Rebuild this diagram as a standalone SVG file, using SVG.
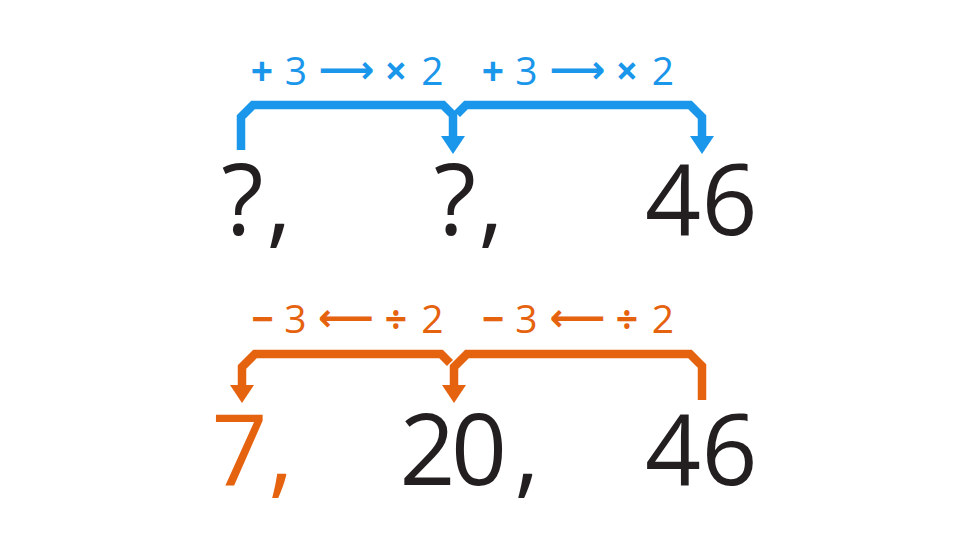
<svg xmlns="http://www.w3.org/2000/svg" width="976" height="549" viewBox="0 0 976 549">
<style>
.num{font-family:"Open Sans","Noto Sans","Liberation Sans",sans-serif;font-size:98px;fill:#231f20;text-anchor:middle}
.lbl{font-family:"Open Sans","Noto Sans","Liberation Sans",sans-serif;font-size:39px;font-weight:500;text-anchor:middle}
.sym{font-weight:700}
.arr{font-family:"DejaVu Sans",sans-serif;font-weight:700}
.blue{fill:#1a96ea}
.orange{fill:#e5620f}
.cb{fill:none;stroke:#1a96ea;stroke-width:8.5}
.co{fill:none;stroke:#e5620f;stroke-width:8.5}
</style>
<defs>
<marker id="ab" markerUnits="userSpaceOnUse" markerWidth="20" markerHeight="26" viewBox="0 0 20 26" refX="2" refY="13" orient="auto">
<path d="M0,1 L18,13 L0,25 Z" fill="#1a96ea"/>
</marker>
<marker id="ao" markerUnits="userSpaceOnUse" markerWidth="20" markerHeight="26" viewBox="0 0 20 26" refX="2" refY="13" orient="auto">
<path d="M0,1 L18,13 L0,25 Z" fill="#e5620f"/>
</marker>
</defs>
<rect width="976" height="549" fill="#ffffff"/>
<g id="connectors">
<path class="cb" d="M241,150 V117 L253,105 H443 L453,115 V138" marker-end="url(#ab)"/>
<path class="cb" d="M457,114 L466,105 H690 L702,117 V138" marker-end="url(#ab)"/>
<path class="co" d="M450,363 L441,354 H255 L242,367 V387" marker-end="url(#ao)"/>
<path class="co" d="M702,400 V366 L690,354 H467 L454,367 V387" marker-end="url(#ao)"/>
</g>
<g id="label-top-1">
<text class="lbl blue" y="85"><tspan class="sym" x="262">+</tspan><tspan x="296">3</tspan><tspan class="arr" x="346.5" dy="-2">⟶</tspan><tspan class="sym" x="396" dy="2">×</tspan><tspan x="432.5">2</tspan></text>
</g>
<g id="label-top-2">
<text class="lbl blue" y="85"><tspan class="sym" x="493">+</tspan><tspan x="526.5">3</tspan><tspan class="arr" x="577.5" dy="-2">⟶</tspan><tspan class="sym" x="627" dy="2">×</tspan><tspan x="663">2</tspan></text>
</g>
<g id="label-bottom-1">
<text class="lbl orange" y="333"><tspan class="sym" x="262.5">−</tspan><tspan x="295.5">3</tspan><tspan class="arr" x="346" dy="-2">⟵</tspan><tspan class="sym" x="396" dy="2">÷</tspan><tspan x="432.5">2</tspan></text>
</g>
<g id="label-bottom-2">
<text class="lbl orange" y="333"><tspan class="sym" x="493">−</tspan><tspan x="526.5">3</tspan><tspan class="arr" x="577.5" dy="-2">⟵</tspan><tspan class="sym" x="627" dy="2">÷</tspan><tspan x="663">2</tspan></text>
</g>
<g id="node-q1"><text class="num" y="235"><tspan x="242.5">?</tspan><tspan x="279">,</tspan></text></g>
<g id="node-q2"><text class="num" y="235"><tspan x="455">?</tspan><tspan x="491">,</tspan></text></g>
<g id="node-46-top"><text class="num" y="235"><tspan x="673">4</tspan><tspan x="729.5">6</tspan></text></g>
<g id="node-7"><text class="num" y="485" style="fill:#e5620f"><tspan x="239.5">7</tspan><tspan x="281">,</tspan></text></g>
<g id="node-20"><text class="num" y="485"><tspan x="427.5">2</tspan><tspan x="479">0</tspan><tspan x="527">,</tspan></text></g>
<g id="node-46-bottom"><text class="num" y="485"><tspan x="673">4</tspan><tspan x="729.5">6</tspan></text></g>
</svg>
